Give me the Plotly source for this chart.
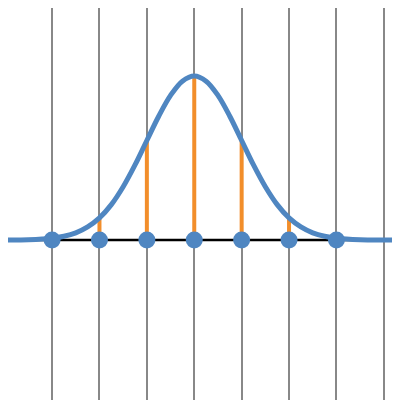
import plotly.graph_objects as go

# bell curve samples (peak normalised to 1)
curve_x = [-4.5, -4.0, -3.5, -3.0, -2.75, -2.5, -2.25, -2.0, -1.75, -1.5, -1.25,
           -1.0, -0.75, -0.5, -0.25, 0.0, 0.25, 0.5, 0.75, 1.0, 1.25, 1.5,
           1.75, 2.0, 2.25, 2.5, 2.75, 3.0, 3.5, 4.0, 4.5]
curve_y = [0.0, 0.0003, 0.002, 0.011, 0.023, 0.044, 0.080, 0.135, 0.216, 0.325, 0.458,
           0.607, 0.755, 0.882, 0.969, 1.0, 0.969, 0.882, 0.755, 0.607, 0.458, 0.325,
           0.216, 0.135, 0.080, 0.044, 0.023, 0.011, 0.002, 0.0003, 0.0]

stem_x = [-2, -1, 0, 1, 2]
stem_y = [0.135, 0.607, 1.0, 0.607, 0.135]

dot_x = [-3, -2, -1, 0, 1, 2, 3]
dot_y = [0, 0, 0, 0, 0, 0, 0]

BLUE = "#4f86c1"
ORANGE = "#f28e2b"

fig = go.Figure()
fig.add_trace(go.Scatter(x=[-5, 5], y=[0, 0], mode="lines",
                         line=dict(color="black", width=2.5)))
for sx, sy in zip(stem_x, stem_y):
    fig.add_trace(go.Scatter(x=[sx, sx], y=[0, sy], mode="lines",
                             line=dict(color=ORANGE, width=4)))
fig.add_trace(go.Scatter(x=curve_x, y=curve_y, mode="lines",
                         line=dict(color=BLUE, width=5, shape="spline")))
fig.add_trace(go.Scatter(x=dot_x, y=dot_y, mode="markers",
                         marker=dict(color=BLUE, size=17)))

# ranges shifted to offset the page's 8px body margin
fig.update_layout(
    width=400, height=400, showlegend=False,
    margin=dict(l=0, r=0, t=0, b=0),
    paper_bgcolor="white", plot_bgcolor="white",
    xaxis=dict(range=[-3.93, 4.51], dtick=1, tick0=0, showgrid=True,
               gridcolor="#888888", gridwidth=1.5, zeroline=False,
               showticklabels=False, ticks=""),
    yaxis=dict(range=[-1.024, 1.415], showgrid=False, zeroline=False,
               showticklabels=False, ticks=""),
)

fig.write_html("out.html")
